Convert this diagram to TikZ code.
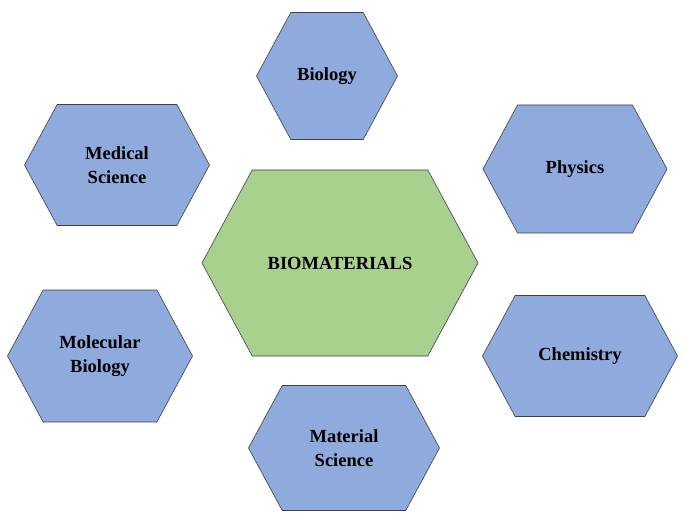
\documentclass[tikz,border=0pt]{standalone}
\usepackage{fontspec}
\setmainfont{Liberation Serif}
\definecolor{hexblue}{HTML}{8FAADC}
\definecolor{hexgreen}{HTML}{A9D18E}
\definecolor{hexedge}{HTML}{3A3F4A}
\tikzset{hexlabel/.style={font=\bfseries\fontsize{18.5}{24}\selectfont, align=center, text=black}}
\newcommand\myhex[7]{%
  \pgfmathsetmacro\hw{#4/2}\pgfmathsetmacro\hh{#5/2}\pgfmathsetmacro\ins{0.27*#5}%
  \draw[fill=#6, draw=hexedge, line width=0.6pt]
    (#2-\hw,#3) -- (#2-\hw+\ins,#3-\hh) -- (#2+\hw-\ins,#3-\hh) -- (#2+\hw,#3)
    -- (#2+\hw-\ins,#3+\hh) -- (#2-\hw+\ins,#3+\hh) -- cycle;
  \node[hexlabel] (#1) at (#2,#3) {#7};}
\begin{document}
\begin{tikzpicture}[x=1pt,y=-1pt]
\useasboundingbox (0,0) rectangle (685,521);
\myhex{bio}{327}{76}{141}{127}{hexblue}{Biology}
\myhex{med}{117}{165}{185}{121}{hexblue}{Medical\\Science}
\myhex{phys}{575}{169}{184}{128}{hexblue}{Physics}
\myhex{center}{340}{263}{276}{186}{hexgreen}{BIOMATERIALS}
\myhex{mol}{100}{356}{185}{132}{hexblue}{Molecular\\Biology}
\myhex{chem}{580}{356}{195}{121}{hexblue}{Chemistry}
\myhex{mat}{344}{448}{191}{125}{hexblue}{Material\\Science}
\end{tikzpicture}
\end{document}
